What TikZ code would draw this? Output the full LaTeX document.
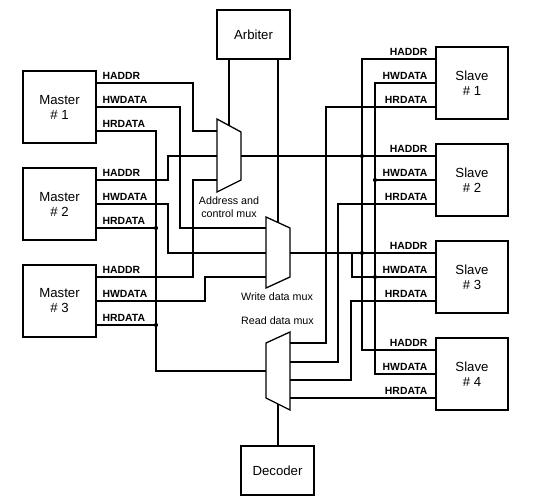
\documentclass[tikz,border=0pt]{standalone}
\usepackage{fontspec}
\setmainfont{Liberation Sans}
\usetikzlibrary{calc}
\begin{document}
\begin{tikzpicture}[x=1pt,y=-1pt, line width=1.3pt, line join=miter,
  box/.style={draw, minimum width=73pt, minimum height=72pt, align=center,
    font=\fontsize{13.2}{15}\selectfont, inner sep=0pt},
  slavebox/.style={box, minimum width=72pt},
  smallbox/.style={box, minimum height=49pt},
  sig/.style={font=\bfseries\fontsize{10.4}{12}\selectfont, inner sep=0pt},
  msig/.style={sig, anchor=base west},
  ssig/.style={sig, anchor=base east},
  muxlbl/.style={font=\fontsize{10.7}{12.5}\selectfont, align=center, inner sep=0pt},
  jdot/.style={circle, fill, draw=none, inner sep=0pt, minimum size=4.2pt}]
\useasboundingbox (0,0) rectangle (550,504);

% boxes
\node[box] (M1) at (59.5,107) {Master\\\# 1};
\node[box] (M2) at (59.5,204) {Master\\\# 2};
\node[box] (M3) at (59.5,301) {Master\\\# 3};
\node[slavebox] (S1) at (472,83) {Slave\\\# 1};
\node[slavebox] (S2) at (472,180) {Slave\\\# 2};
\node[slavebox] (S3) at (472,277) {Slave\\\# 3};
\node[slavebox] (S4) at (472,374) {Slave\\\# 4};
\node[smallbox] (A) at (253.5,34.5) {Arbiter};
\node[smallbox] (D) at (277.5,470.5) {Decoder};

% multiplexers
\coordinate (am1) at (217,119); \coordinate (am2) at (241,132);
\coordinate (am3) at (241,180); \coordinate (am4) at (217,192);
\draw (am1) -- (am2) -- (am3) -- (am4) -- cycle;
\coordinate (wm1) at (266,217); \coordinate (wm2) at (290,228);
\coordinate (wm3) at (290,277); \coordinate (wm4) at (266,288);
\draw (wm1) -- (wm2) -- (wm3) -- (wm4) -- cycle;
\coordinate (rm1) at (266,343); \coordinate (rm2) at (290,332);
\coordinate (rm3) at (290,410); \coordinate (rm4) at (266,398);
\draw (rm1) -- (rm2) -- (rm3) -- (rm4) -- cycle;

% mux ports
\coordinate (ai1) at (217,131); \coordinate (ai2) at (217,156);
\coordinate (ai3) at (217,180); \coordinate (ao) at (241,156);
\coordinate (wi1) at (266,228); \coordinate (wi2) at (266,253);
\coordinate (wi3) at (266,277); \coordinate (wo) at (290,253);
\coordinate (ro) at (266,371);
\coordinate (ri1) at (290,343); \coordinate (ri2) at (290,362);
\coordinate (ri3) at (290,380); \coordinate (ri4) at (290,398);
\coordinate (aa) at (229,125.5); \coordinate (wa) at (278,222.5);
\coordinate (rd) at (278,404);

% mux labels
\node[muxlbl] (lam) at (229,207) {Address and\\control mux};
\node[muxlbl] (lwm) at (277,297) {Write data mux};
\node[muxlbl] (lrm) at (277.5,321) {Read data mux};

% arbiter and decoder
\draw (aa |- A.south) -- (aa);
\draw (wa |- A.south) -- (wa);
\draw (rd |- D.north) -- (rd);

% master 1
\draw ([yshift=24pt]M1.east) -| (193,131) -- (ai1);
\draw (M1.east) -| (180,228) -- (wi1);
\draw ([yshift=-24pt]M1.east) -| (156,371) -- (ro);
% master 2
\draw ([yshift=24pt]M2.east) -| (168,156) -- (ai2);
\draw (M2.east) -| (168,253) -- (wi2);
\draw ([yshift=-24pt]M2.east) -- (156,228);
% master 3
\draw ([yshift=24pt]M3.east) -| (193,180) -- (ai3);
\draw (M3.east) -| (205,277) -- (wi3);
\draw ([yshift=-24pt]M3.east) -- (156,325);
\node[jdot] (j1) at (156,228) {};
\node[jdot] (j2) at (156,325) {};

% address bus to slaves
\draw (ao) -- (ao -| S2.west);
\draw ([yshift=24pt]S1.west) -| (362,350) -- ([yshift=24pt]S4.west);
\draw (wo) -- ([yshift=24pt]S3.west);
\node[jdot] (j3) at (362,156) {};
\node[jdot] (j4) at (362,253) {};

% write data bus to slaves
\draw (352,253) -- (352,277) -- (S3.west);
\draw (S1.west) -| (375,374) -- (S4.west);
\draw (375,180) -- (S2.west);
\node[jdot] (j5) at (375,180) {};
\node[jdot] (j6) at (375,277) {};

% read data from slaves
\draw ([yshift=-24pt]S1.west) -| (326,343) -- (ri1);
\draw ([yshift=-24pt]S2.west) -| (338,362) -- (ri2);
\draw ([yshift=-24pt]S3.west) -| (351,380) -- (ri3);
\draw ([yshift=-24pt]S4.west) -- (ri4);

% master signal labels
\foreach \m/\y in {1/83,2/180,3/277}{
  \node[msig] at (102,\y-3.5) {HADDR};
  \node[msig] at (102,\y+20.5) {HWDATA};
  \node[msig] at (102,\y+44.5) {HRDATA};
}
% slave signal labels
\foreach \s/\y in {1/59,2/156,3/253,4/350}{
  \node[ssig] at (428,\y-3.5) {HADDR};
  \node[ssig] at (428,\y+20.5) {HWDATA};
  \node[ssig] at (428,\y+44.5) {HRDATA};
}
\end{tikzpicture}
\end{document}
